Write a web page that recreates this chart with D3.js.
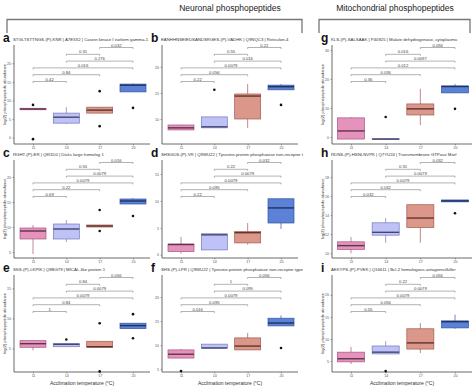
<!DOCTYPE html>
<html>
<head>
<meta charset="utf-8">
<script src="https://cdn.jsdelivr.net/npm/d3@7"></script>
<style>
  body { margin: 0; background: #fff; }
  svg { display: block; font-family: "Liberation Sans", Arial, sans-serif; }
</style>
</head>
<body>
<div class="container"></div>
<script>
// groups on the x axis
const groups = ['11', '14', '17', '20'];
const fills = ['#e593bd', '#bfc2f7', '#dc978b', '#5b82d6'];
const strokes = ['#a4577f', '#7478bb', '#a0594d', '#34559f'];

// panels in row order
const panelLetters = ['a', 'b', 'g', 'c', 'd', 'h', 'e', 'f', 'i'];
const panelTitles = [
  'STGLTSTTNGS-(P)-KNR | A7E3X2 | Casein kinase I isoform gamma-1',
  'EANHHNSEIEDSANDSRGES-(P)-VADHK | Q9NQC3 | Reticulon-4',
  'KLS-(P)-SALSAAK | P40925 | Malate dehydrogenase, cytoplasmic',
  'RGHT-(P)-ER | Q8I1D0 | Disks large homolog 1',
  'SHSGDS-(P)-VR | Q9WU22 | Tyrosine-protein phosphatase non-receptor t',
  'RDNS-(P)-HSNLNVPK | Q7YU24 | Transmembrane GTPase Marf',
  'SSS-(P)-LKPIK | Q8BG79 | MICAL-like protein 1',
  'SHS-(P)-LPR | Q9WU22 | Tyrosine-protein phosphatase non-receptor type',
  'AEKYPS-(P)-PVEK | Q16611 | Bcl-2 homologous antagonist/killer'
];

// comparisons, bottom bracket first
const pairs = [[0, 1], [0, 2], [0, 3], [1, 3], [1, 2], [2, 3]];
const pValues = [
  ['0.42', '0.84', '0.016', '0.276', '0.31', '0.032'],
  ['0.22', '0.056', '0.0079', '0.016', '0.55', '0.22'],
  ['0.36', '0.036', '0.012', '0.0097', '0.016', '0.056'],
  ['0.69', '0.22', '0.0079', '0.0079', '0.55', '0.016'],
  ['0.22', '0.095', '0.0079', '0.0079', '0.22', '0.032'],
  ['0.032', '0.032', '0.0079', '0.0079', '0.31', '0.032'],
  ['1', '0.84', '0.0079', '0.0079', '0.84', '0.056'],
  ['0.016', '0.095', '0.0079', '0.095', '1', '0.056'],
  ['0.55', '0.056', '0.0079', '0.0079', '0.22', '0.056']
];

const yDomains = [
  [-1.7, 24.9], [5.2, 24.2], [-2.4, 31.7],
  [3.8, 23.4], [-0.6, 17.6], [9.5, 19.8],
  [1.1, 17.2], [4.4, 24.6], [2.5, 24.5]
];
const yTicks = [
  [0, 5, 10, 15, 20], [10, 15, 20], [0, 10, 20, 30],
  [5, 10, 15, 20], [0, 5, 10, 15], [10, 12, 14, 16, 18],
  [5, 10, 15], [5, 10, 15, 20], [5, 10, 15, 20]
];

// [min, q1, median, q3, max] for each group
const boxStats = [
  [[7.5, 7.5, 7.7, 7.9, 7.9], [3.7, 3.9, 5.5, 6.6, 8.2], [6.6, 6.6, 7.4, 8.2, 8.2], [12.3, 12.3, 14.1, 14.4, 14.6]],
  [[7.9, 7.9, 8.3, 8.85, 8.9], [8.3, 8.3, 8.5, 10.4, 10.4], [8.3, 10.0, 14.4, 14.8, 16.7], [15.6, 15.6, 16.2, 16.5, 16.7]],
  [[-0.7, -0.7, 2.1, 6.6, 6.9], [-0.8, -0.8, -0.7, -0.6, -0.6], [4.1, 7.6, 9.7, 11.4, 16.6], [15.2, 15.2, 17.4, 17.6, 18.3]],
  [[4.6, 7.6, 9.2, 9.8, 10.4], [7.0, 7.6, 9.6, 10.6, 11.4], [10.0, 10.0, 10.2, 10.4, 10.4], [14.6, 14.6, 15.2, 15.6, 15.8]],
  [[0.2, 0.6, 1.9, 2.0, 3.3], [0.9, 0.9, 3.7, 3.9, 3.9], [1.9, 2.2, 4.1, 4.3, 5.9], [4.8, 5.9, 8.7, 10.4, 10.4]],
  [[10.0, 10.4, 10.8, 11.2, 11.7], [11.1, 11.9, 12.2, 13.2, 13.7], [11.1, 12.7, 13.7, 15.1, 15.1], [15.4, 15.4, 15.5, 15.6, 15.6]],
  [[4.7, 5.2, 5.8, 6.3, 6.3], [5.3, 5.3, 5.7, 5.8, 5.8], [5.2, 5.2, 5.3, 6.2, 6.2], [8.3, 8.3, 8.8, 9.2, 9.2]],
  [[7.3, 7.3, 8.1, 9.0, 9.2], [9.4, 9.4, 9.4, 10.2, 10.2], [9.0, 9.0, 9.8, 11.5, 12.5], [14.0, 14.0, 14.6, 15.6, 16.2]],
  [[4.3, 4.8, 5.5, 7.0, 8.2], [6.6, 6.6, 7.0, 8.4, 9.5], [6.8, 7.7, 9.1, 12.3, 13.6], [12.3, 12.5, 13.9, 14.1, 15.5]]
];
const outliers = [
  [[8.8, -0.4], [], [12.5, 3.1], [8.0]],
  [[], [15.6], [], [12.7]],
  [[], [6.9], [], [9.7]],
  [[], [], [13.4, 9.2], [12.2]],
  [[], [], [], []],
  [[], [], [], [14.2]],
  [[], [6.5], [9.2, 1.2], [10.7, 6.7]],
  [[4.6], [], [], [9.4]],
  [[], [2.7], [], []]
];

const width = 474, height = 389;
const cols = [{l: 14, r: 150}, {l: 162, r: 298}, {l: 332, r: 472}];
const rows = [{t: 45, b: 144}, {t: 160, b: 258}, {t: 275, b: 372}];

const svg = d3.select('.container').append('svg')
  .attr('width', width).attr('height', height);

// section headers
const headers = [
  {text: 'Neuronal phosphopeptides', x: 230, l: 7, r: 302},
  {text: 'Mitochondrial phosphopeptides', x: 395, l: 319, r: 470}
];
headers.forEach(h => {
  svg.append('text').attr('x', h.x).attr('y', 11)
    .attr('text-anchor', 'middle').attr('font-size', 8.5).attr('fill', '#222')
    .text(h.text);
  svg.append('path')
    .attr('d', `M${h.l},33V19.5H${h.r}V33`)
    .attr('fill', 'none').attr('stroke', '#777').attr('stroke-width', 1.3);
});

panelLetters.forEach((letter, p) => {
  const c = cols[p % 3], r = rows[Math.floor(p / 3)];
  const g = svg.append('g');

  const x = d3.scalePoint().domain(groups).range([c.l + 19, c.r - 17]);
  const y = d3.scaleLinear().domain(yDomains[p]).range([r.b, r.t]);
  const bw = x.step() * 0.78;

  // titles
  g.append('text').attr('x', c.l - 11).attr('y', r.t - 3)
    .attr('font-size', 12).attr('font-weight', 'bold').attr('fill', '#111').text(letter);
  g.append('text').attr('x', c.l - 1).attr('y', r.t - 4)
    .attr('font-size', 4.3).attr('fill', '#333').text(panelTitles[p]);

  // axes
  const yAxis = d3.axisLeft(y).tickValues(yTicks[p]).tickSize(1.5).tickPadding(1.5);
  const ya = g.append('g').attr('transform', `translate(${c.l},0)`).call(yAxis);
  const xAxis = d3.axisBottom(x).tickSize(1.5).tickPadding(1.2);
  const xa = g.append('g').attr('transform', `translate(0,${r.b})`).call(xAxis);
  [ya, xa].forEach(a => {
    a.select('.domain').remove();
    a.selectAll('text').attr('font-size', 3.6).attr('fill', '#555');
    a.selectAll('line').attr('stroke', '#555').attr('stroke-width', 0.5);
  });
  g.append('path')
    .attr('d', `M${c.l},${r.t}V${r.b}H${c.r}`)
    .attr('fill', 'none').attr('stroke', '#444').attr('stroke-width', 0.8);

  if (p % 3 !== 1) {
    g.append('text')
      .attr('transform', `translate(${c.l - 8},${(r.t + r.b) / 2}) rotate(-90)`)
      .attr('text-anchor', 'middle').attr('font-size', 4).attr('fill', '#333')
      .text('log(2) phosphopeptide abundance');
  }
  if (Math.floor(p / 3) === 2) {
    g.append('text').attr('x', (c.l + c.r) / 2).attr('y', r.b + 13)
      .attr('text-anchor', 'middle').attr('font-size', 5).attr('fill', '#333')
      .text('Acclimation temperature (°C)');
  }

  // boxes
  const boxes = g.selectAll('.box').data(boxStats[p]).enter()
    .append('g').attr('class', 'box');
  boxes.append('line')
    .attr('x1', (d, i) => x(groups[i])).attr('x2', (d, i) => x(groups[i]))
    .attr('y1', d => y(d[0])).attr('y2', d => y(d[4]))
    .attr('stroke', (d, i) => strokes[i]).attr('stroke-width', 0.7);
  boxes.append('rect')
    .attr('x', (d, i) => x(groups[i]) - bw / 2).attr('width', bw)
    .attr('y', d => y(d[3])).attr('height', d => Math.max(0.5, y(d[1]) - y(d[3])))
    .attr('fill', (d, i) => fills[i]).attr('stroke', (d, i) => strokes[i]).attr('stroke-width', 0.7);
  boxes.append('line')
    .attr('x1', (d, i) => x(groups[i]) - bw / 2).attr('x2', (d, i) => x(groups[i]) + bw / 2)
    .attr('y1', d => y(d[2])).attr('y2', d => y(d[2]))
    .attr('stroke', (d, i) => d3.color(strokes[i]).darker(1.5)).attr('stroke-width', 1.4);

  outliers[p].forEach((vals, i) => {
    g.selectAll(null).data(vals).enter().append('circle')
      .attr('cx', x(groups[i])).attr('cy', d => y(d)).attr('r', 1.3).attr('fill', '#111');
  });

  // significance brackets
  pairs.forEach((pr, k) => {
    const by = r.t + 36.5 - k * 6.8;
    const x1 = x(groups[pr[0]]), x2 = x(groups[pr[1]]);
    g.append('path').attr('d', `M${x1},${by + 1.5}V${by}H${x2}V${by + 1.5}`)
      .attr('fill', 'none').attr('stroke', '#666').attr('stroke-width', 0.5);
    g.append('text').attr('x', (x1 + x2) / 2).attr('y', by - 0.9)
      .attr('text-anchor', 'middle').attr('font-size', 4.2).attr('fill', '#444')
      .text(pValues[p][k]);
  });
});
</script>
</body>
</html>
